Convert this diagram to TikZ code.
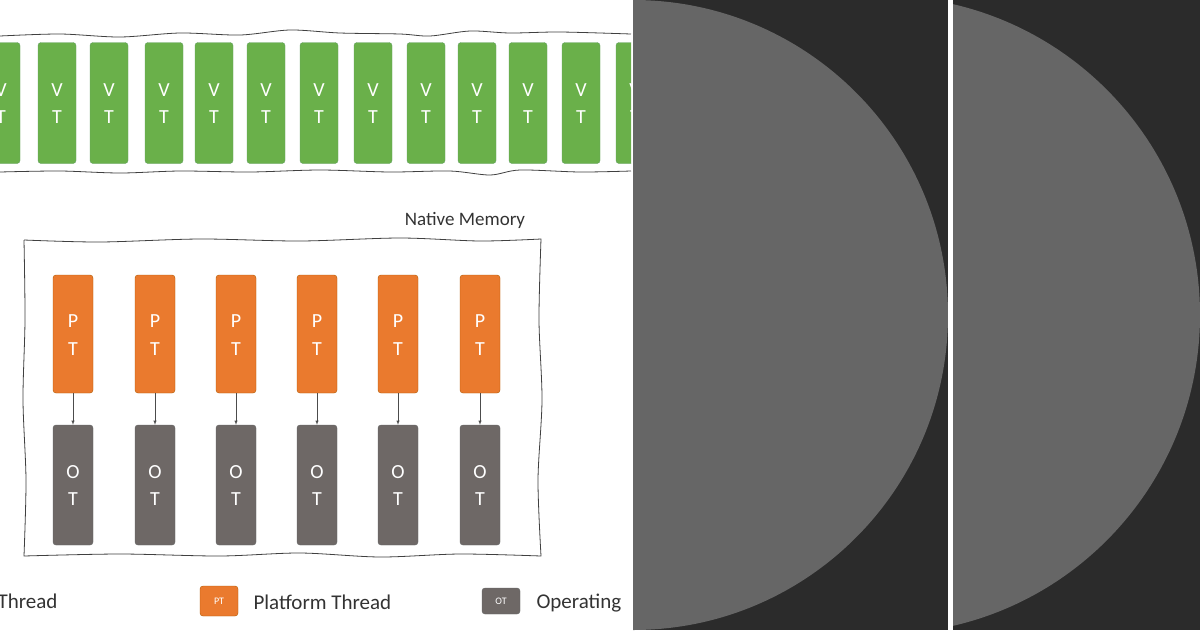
\documentclass[tikz,border=0pt]{standalone}
\usepackage{fontspec}
\setmainfont{Carlito}
\begin{document}
\begin{tikzpicture}[x=1pt,y=-1pt,
  vt/.style={draw=green!40!black!60,fill=vtg,rounded corners=3pt,minimum width=38pt,minimum height=121pt,inner sep=0pt},
  pt/.style={draw=orange!70!black,fill=ptc,rounded corners=3pt,minimum width=40pt,minimum height=118pt,inner sep=0pt},
  ot/.style={draw=black!60,fill=otc,rounded corners=3pt,minimum width=40pt,minimum height=120pt,inner sep=0pt},
  lbl/.style={font=\fontsize{20}{22}\selectfont,text=white,align=center},
  wav/.style={draw=black!75,line width=0.8pt},
  leg/.style={font=\fontsize{21}{24}\selectfont,text=black!80,anchor=west}]
\definecolor{vtg}{HTML}{6AB04A}
\definecolor{ptc}{HTML}{EA7A2E}
\definecolor{otc}{HTML}{6E6866}
\definecolor{dark}{HTML}{2B2B2B}
\definecolor{circ}{HTML}{666666}
\useasboundingbox (0,0) rectangle (1200,630);
\fill[white] (0,0) rectangle (1200,630);
% right panels
\fill[dark] (633,0) rectangle (1200,630);
\begin{scope}
\clip (633,0) rectangle (948,630);
\fill[circ] (633,315) circle[radius=315];
\end{scope}
\fill[white] (948,0) rectangle (953,630);
\begin{scope}
\clip (953,0) rectangle (1200,630);
\fill[circ] (881,315) circle[radius=319];
\end{scope}
% VT band
\begin{scope}
\clip (0,0) rectangle (631,630);
\draw[wav] plot[smooth] coordinates {(0,36) (60,34) (120,37) (180,33) (240,35) (290,30) (340,33) (400,34) (430,36) (470,31) (510,33) (560,32) (631,34)};
\draw[wav] plot[smooth] coordinates {(0,172) (60,171) (120,173) (180,171) (250,172) (320,170) (390,172) (450,171) (490,175) (520,170) (580,172) (631,171)};
\foreach \i/\x in {0/1,1/57,2/109,3/164,4/214,5/266,6/319,7/373,8/426,9/477,10/528,11/581,12/635}{
  \node[vt] (v\i) at (\x,103) {};
  \node[lbl] at (\x,90) {V};
  \node[lbl] at (\x,117) {T};
}
\end{scope}
% Native memory
\node[font=\fontsize{19}{22}\selectfont,text=black!80] (nm) at (465,220) {Native Memory};
\draw[wav] plot[smooth] coordinates {(24,240) (100,242) (200,239) (300,241) (400,238) (480,241) (541,239)}
  -- plot[smooth] coordinates {(541,239) (539,320) (542,400) (538,480) (541,556)}
  -- plot[smooth] coordinates {(541,556) (460,554) (380,557) (300,553) (220,556) (120,554) (24,556)}
  -- plot[smooth] coordinates {(24,556) (26,480) (23,400) (25,320) (24,240)};
\foreach \i/\x in {1/73,2/155,3/236,4/317,5/398,6/480}{
  \node[pt] (p\i) at (\x,334) {};
  \node[lbl] at (\x,321) {P};
  \node[lbl] at (\x,349) {T};
  \node[ot] (o\i) at (\x,485) {};
  \node[lbl] at (\x,472) {O};
  \node[lbl] at (\x,499) {T};
  \draw[-latex,black!70,line width=0.5pt] (p\i) -- (o\i);
}
% legend
\node[leg] (l1) at (-6,601) {Thread};
\node[draw=orange!70!black,fill=ptc,rounded corners=3pt,minimum width=38pt,minimum height=30pt,font=\fontsize{10}{12}\selectfont,text=white] (lp) at (219,601) {PT};
\node[leg] (l2) at (250,602) {Platform Thread};
\node[draw=black!60,fill=otc,rounded corners=3pt,minimum width=38pt,minimum height=26pt,font=\fontsize{10}{12}\selectfont,text=white] (lo) at (501,601) {OT};
\node[leg] (l3) at (533,603) {Operating};
\end{tikzpicture}
\end{document}
